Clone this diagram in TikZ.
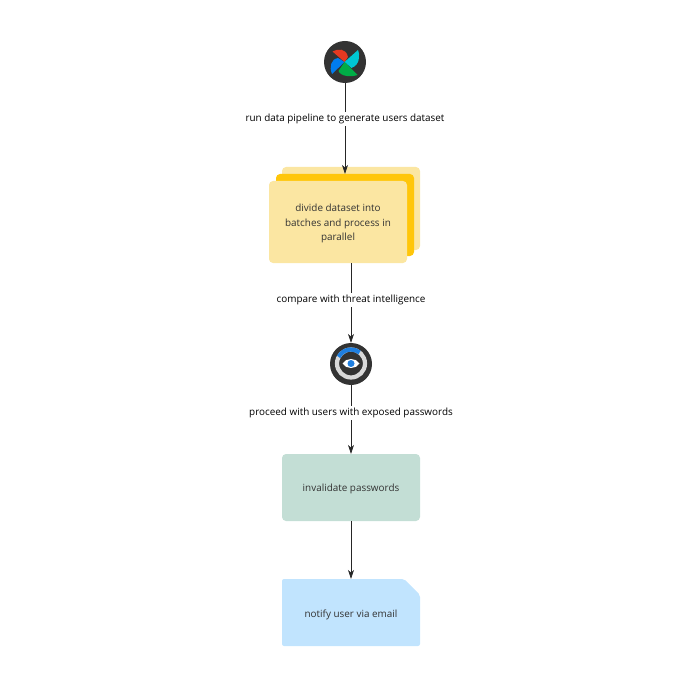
\documentclass[tikz,border=0pt]{standalone}
\usepackage{fontspec}
\setmainfont{Open Sans}
\usetikzlibrary{arrows.meta}
\definecolor{paleyellow}{HTML}{FBE6A2}
\definecolor{deepyellow}{HTML}{FFC60A}
\definecolor{palegreen}{HTML}{C3DED5}
\definecolor{paleblue}{HTML}{C1E4FE}
\definecolor{icondark}{HTML}{333333}
\definecolor{eyeblue}{HTML}{1F7FE0}
\definecolor{bladered}{HTML}{E43921}
\definecolor{bladecyan}{HTML}{00C7D4}
\definecolor{bladegreen}{HTML}{00AD46}
\definecolor{bladeblue}{HTML}{017CEE}
\tikzset{
  box/.style={rounded corners=4,minimum width=138,minimum height=67},
  boxtext/.style={align=center,text=black!80,font=\fontsize{9.9}{14.5}\selectfont},
  icon/.style={circle,fill=icondark,minimum size=42,inner sep=0},
  flow/.style={draw=black!85,line width=.6,-{Stealth[length=9,width=6]}},
  flowlabel/.style={fill=white,inner sep=2,font=\fontsize{9.9}{12}\selectfont,text=black}
}
\begin{document}
\begin{tikzpicture}[x=1pt,y=-1pt]
\useasboundingbox (0,0) rectangle (688,687);
\node[box,fill=paleyellow,minimum height=83] (batchback) at (351,208.5) {};
\node[box,fill=deepyellow,minimum height=82] (batchmid) at (345,215) {};
\node[box,fill=paleyellow,minimum height=82] (batch) at (338,222) {};
\node[boxtext] (batchtext) at (338,223.5) {divide dataset into\\batches and process in\\parallel};
\node[box,fill=palegreen] (invalidate) at (351,487.5) {};
\node[boxtext] (invalidatetext) at (351,488.5) {invalidate passwords};
\fill[paleblue,rounded corners=2] (282,579) -- (404,579) -- (420,595) -- (420,646) -- (282,646) -- cycle;
\node[box] (notify) at (351,612.5) {};
\node[boxtext] (notifytext) at (351,614.5) {notify user via email};
\node[icon] (airflow) at (345,62) {};
\node[icon] (eye) at (351,364) {};
% pinwheel
\fill[bladered] (344.5,62) -- (332.5,51.5) .. controls (338,48.5) and (346,48) .. (348,57) -- cycle;
\fill[bladecyan] (344.5,62) -- (358,50) .. controls (360,55) and (360,65) .. (351.5,68) -- cycle;
\fill[bladegreen] (344.5,62) -- (357.5,75) .. controls (352,77) and (341,77) .. (338.5,71) -- cycle;
\fill[bladeblue] (344.5,62) -- (332,74) .. controls (329,67) and (331,59) .. (338,58) -- cycle;
% eye
\draw[black!15,line width=4.2] (351,363.5) circle (14);
\draw[eyeblue,line width=4.2] (351,363.5) ++(-152:14) arc (-152:-52:14);
\fill[white] (342.5,363.5) .. controls (346,357.5) and (356,357.5) .. (359.5,363.5) .. controls (356,369.5) and (346,369.5) .. (342.5,363.5) -- cycle;
\fill[eyeblue] (351,363.5) circle (3.5);
\draw[flow] (airflow) -- node[flowlabel,pos=.392] (pipelinelabel) {run data pipeline to generate users dataset} (batchmid.north);
\draw[flow] (batch.south -| eye) -- node[flowlabel,pos=.465] (threatlabel) {compare with threat intelligence} (eye);
\draw[flow] (eye) -- node[flowlabel,pos=.41] (exposedlabel) {proceed with users with exposed passwords} (invalidate);
\draw[flow] (invalidate) -- (notify);
\end{tikzpicture}
\end{document}
